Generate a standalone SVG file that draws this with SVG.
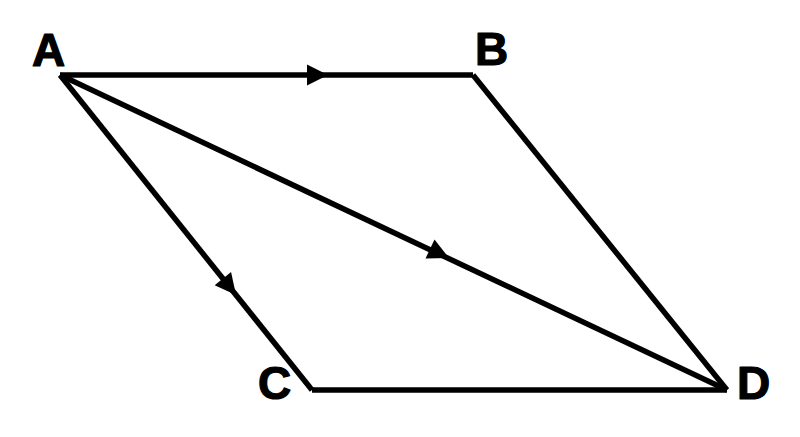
<svg xmlns="http://www.w3.org/2000/svg" xmlns:xlink="http://www.w3.org/1999/xlink" width="800" height="437" viewBox="0 0 800 437">
<style>
.lbl{font-family:"Liberation Sans",Arial,sans-serif;font-weight:bold;font-size:46px;fill:#000;stroke:#000;stroke-width:1.2;stroke-linejoin:round;text-anchor:middle}
.edge{stroke:#000;stroke-width:5.5;fill:none;stroke-linejoin:miter}
</style>
<defs>
<path id="ah" d="M0,0 L-21,-10.5 L-21,10.5 Z" fill="#000"/>
</defs>
<rect width="800" height="437" fill="#fff"/>
<g id="connectors">
<path id="AB" class="edge" d="M60,75 L473,75"/>
<path id="BD" class="edge" d="M473,75 L727,390"/>
<path id="CD" class="edge" d="M312,390 L727,390"/>
<path id="AC" class="edge" d="M60,75 L312,390"/>
<path id="AD" class="edge" d="M60,75 L727,390"/>
<use xlink:href="#ah" href="#ah" transform="translate(328,75)"/>
<use xlink:href="#ah" href="#ah" transform="translate(236,295) rotate(51.3)"/>
<use xlink:href="#ah" href="#ah" transform="translate(449,258) rotate(25.3)"/>
</g>
<g id="A"><text class="lbl" x="48.5" y="66">A</text></g>
<g id="B"><text class="lbl" x="491.5" y="65">B</text></g>
<g id="C"><text class="lbl" x="274.5" y="399">C</text></g>
<g id="D"><text class="lbl" x="753.5" y="399">D</text></g>
</svg>
